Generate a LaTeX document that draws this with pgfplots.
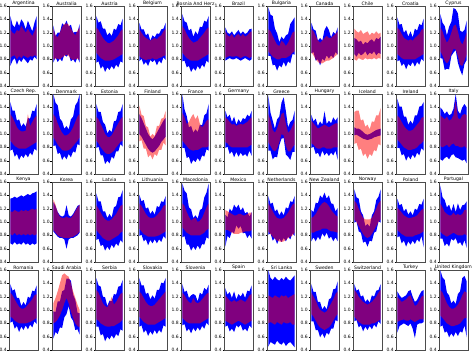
\documentclass[border=0pt]{standalone}
\usepackage{fontspec}
\setmainfont{DejaVu Sans}
\usepackage{pgfplots}
\usepackage{pgfplotstable}
\usepgfplotslibrary{groupplots,fillbetween}
\pgfplotsset{compat=1.18}
\pgfplotsset{every axis title/.style={at={(0.5,1)}, anchor=south, font=\fontsize{4.6}{5}\selectfont, inner sep=0.5pt}}
\newcommand\panel[2]{%
  \nextgroupplot[title={#1}]
  \pgfplotstableread[header=false,row sep=\\]{#2}\rawtbl
  \pgfplotstabletranspose[colnames from=0]\tbl{\rawtbl}
  \addplot[name path=bu,draw=none] table[x expr=\coordindex,y=bu]{\tbl};
  \addplot[name path=bl,draw=none] table[x expr=\coordindex,y=bl]{\tbl};
  \addplot[blue] fill between[of=bu and bl];
  \addplot[name path=ru,draw=none] table[x expr=\coordindex,y=ru]{\tbl};
  \addplot[name path=rl,draw=none] table[x expr=\coordindex,y=rl]{\tbl};
  \addplot[red, fill opacity=0.5] fill between[of=ru and rl];
}
\begin{document}
\begin{tikzpicture}
\begin{groupplot}[
  group style={group name=G, group size=11 by 4, horizontal sep=14pt, vertical sep=8pt},
  scale only axis, width=29pt, height=80pt,
  xmin=-0.6, xmax=12.6, ymin=0.4, ymax=1.6,
  xtick=\empty, ytick={0.4,0.6,0.8,1.0,1.2,1.4,1.6}, ytick pos=left,
  yticklabel={\pgfmathprintnumber[fixed,fixed zerofill,precision=1,assume math mode=true]{\tick}},
  yticklabel style={font=\fontsize{4.5}{5}\selectfont, inner sep=0.6pt},
  tick align=outside, major tick length=1.5pt,
  tick style={black, line width=0.3pt},
  axis line style={black!70, line width=0.4pt},
]
\panel{Argentina}{bu 1.45 1.32 1.28 1.38 1.30 1.40 1.35 1.25 1.38 1.30 1.22 1.35 1.45\\
bl 0.70 0.78 0.82 0.72 0.80 0.76 0.82 0.78 0.74 0.80 0.78 0.84 0.80\\
ru 1.25 1.20 1.18 1.24 1.22 1.30 1.25 1.20 1.26 1.20 1.15 1.22 1.30\\
rl 0.82 0.85 0.86 0.80 0.85 0.82 0.86 0.84 0.82 0.85 0.84 0.86 0.85\\}
\panel{Australia}{bu 1.31 1.15 1.20 1.20 1.34 1.31 1.38 1.29 1.32 1.20 1.21 1.21 1.33\\
bl 0.75 0.83 0.76 0.81 0.77 0.87 0.84 0.88 0.77 0.80 0.75 0.83 0.75\\
ru 1.26 1.16 1.13 1.20 1.28 1.33 1.34 1.32 1.26 1.20 1.16 1.23 1.28\\
rl 0.80 0.81 0.81 0.80 0.83 0.85 0.87 0.85 0.81 0.79 0.80 0.81 0.79\\}
\panel{Austria}{bu 1.45 1.35 1.37 1.26 1.26 1.16 1.20 1.15 1.26 1.24 1.33 1.31 1.41\\
bl 0.75 0.77 0.66 0.70 0.61 0.68 0.64 0.70 0.65 0.72 0.68 0.77 0.75\\
ru 1.28 1.24 1.18 1.12 1.08 1.05 1.04 1.06 1.08 1.12 1.16 1.22 1.25\\
rl 0.90 0.86 0.82 0.80 0.78 0.78 0.78 0.79 0.80 0.82 0.84 0.86 0.88\\}
\panel{Belgium}{bu 1.35 1.25 1.25 1.16 1.19 1.08 1.16 1.13 1.19 1.18 1.25 1.26 1.35\\
bl 0.77 0.81 0.72 0.76 0.70 0.79 0.76 0.79 0.71 0.78 0.74 0.83 0.79\\
ru 1.25 1.20 1.15 1.12 1.10 1.08 1.10 1.12 1.10 1.14 1.16 1.22 1.26\\
rl 0.85 0.82 0.80 0.79 0.80 0.80 0.82 0.80 0.80 0.82 0.83 0.85 0.86\\}
\panel{Bosnia And Herz}{bu 1.48 1.37 1.35 1.23 1.26 1.14 1.22 1.17 1.29 1.28 1.38 1.36 1.45\\
bl 0.77 0.78 0.68 0.70 0.61 0.67 0.63 0.70 0.65 0.72 0.68 0.78 0.75\\
ru 1.30 1.25 1.18 1.12 1.08 1.05 1.06 1.08 1.12 1.16 1.20 1.25 1.28\\
rl 0.90 0.86 0.82 0.80 0.78 0.78 0.78 0.78 0.80 0.82 0.84 0.86 0.88\\}
\panel{Brazil}{bu 1.28 1.20 1.18 1.22 1.16 1.20 1.24 1.18 1.22 1.18 1.20 1.25 1.26\\
bl 0.78 0.80 0.82 0.80 0.80 0.82 0.80 0.78 0.80 0.82 0.80 0.78 0.80\\
ru 1.22 1.16 1.14 1.18 1.12 1.16 1.18 1.14 1.18 1.14 1.16 1.20 1.22\\
rl 0.82 0.84 0.85 0.84 0.84 0.85 0.84 0.82 0.84 0.85 0.84 0.82 0.84\\}
\panel{Bulgaria}{bu 1.58 1.47 1.45 1.26 1.19 1.06 1.14 1.10 1.16 1.18 1.33 1.38 1.43\\
bl 0.85 0.85 0.71 0.72 0.63 0.71 0.68 0.76 0.69 0.77 0.74 0.88 0.87\\
ru 1.25 1.22 1.15 1.08 1.02 1.00 1.08 1.05 1.00 1.05 1.12 1.20 1.22\\
rl 0.92 0.88 0.84 0.82 0.80 0.80 0.82 0.82 0.82 0.84 0.86 0.90 0.92\\}
\panel{Canada}{bu 1.35 1.25 1.23 1.08 1.12 1.08 1.24 1.30 1.24 1.13 1.21 1.18 1.28\\
bl 0.89 0.91 0.78 0.80 0.71 0.81 0.78 0.86 0.81 0.86 0.82 0.91 0.87\\
ru 1.25 1.22 1.15 1.08 1.05 1.08 1.12 1.15 1.12 1.12 1.15 1.18 1.22\\
rl 0.90 0.86 0.80 0.76 0.74 0.74 0.76 0.78 0.78 0.80 0.82 0.85 0.88\\}
\panel{Chile}{bu 1.12 1.10 1.06 1.08 1.02 1.06 1.04 1.08 1.10 1.06 1.12 1.10 1.14\\
bl 0.88 0.84 0.90 0.86 0.88 0.92 0.86 0.90 0.88 0.92 0.86 0.90 0.88\\
ru 1.26 1.22 1.20 1.24 1.18 1.20 1.22 1.16 1.20 1.18 1.22 1.18 1.20\\
rl 0.80 0.78 0.82 0.80 0.79 0.82 0.80 0.81 0.80 0.82 0.80 0.82 0.81\\}
\panel{Croatia}{bu 1.43 1.32 1.33 1.20 1.24 1.14 1.22 1.13 1.26 1.23 1.33 1.31 1.41\\
bl 0.77 0.79 0.70 0.74 0.65 0.73 0.70 0.76 0.69 0.76 0.72 0.81 0.77\\
ru 1.28 1.24 1.18 1.12 1.10 1.08 1.10 1.08 1.12 1.15 1.18 1.24 1.26\\
rl 0.88 0.85 0.82 0.80 0.80 0.80 0.80 0.80 0.80 0.82 0.84 0.86 0.88\\}
\panel{Cyprus}{bu 1.48 1.35 1.30 1.16 1.29 1.36 1.57 1.55 1.49 1.23 1.21 1.24 1.38\\
bl 0.82 0.81 0.64 0.66 0.65 0.85 0.90 0.94 0.75 0.64 0.56 0.73 0.79\\
ru 1.28 1.22 1.12 1.05 1.10 1.20 1.30 1.32 1.22 1.08 1.02 1.10 1.20\\
rl 0.92 0.86 0.78 0.74 0.78 0.88 0.96 0.95 0.85 0.72 0.70 0.78 0.88\\}
\panel{Czech Rep.}{bu 1.48 1.35 1.35 1.20 1.22 1.11 1.16 1.11 1.24 1.23 1.35 1.34 1.45\\
bl 0.75 0.77 0.66 0.70 0.61 0.68 0.64 0.70 0.65 0.72 0.68 0.78 0.75\\
ru 1.30 1.25 1.18 1.10 1.06 1.04 1.04 1.05 1.30 1.12 1.18 1.24 1.28\\
rl 0.90 0.86 0.82 0.80 0.78 0.78 0.78 0.78 0.80 0.82 0.84 0.86 0.88\\}
\panel{Denmark}{bu 1.60 1.47 1.43 1.23 1.19 1.08 1.12 1.07 1.22 1.26 1.43 1.48 1.60\\
bl 0.82 0.83 0.70 0.72 0.61 0.67 0.62 0.70 0.65 0.74 0.72 0.85 0.83\\
ru 1.30 1.25 1.16 1.08 1.02 0.98 0.98 1.00 1.04 1.10 1.18 1.26 1.30\\
rl 0.95 0.90 0.84 0.80 0.76 0.75 0.75 0.76 0.78 0.82 0.86 0.90 0.95\\}
\panel{Estonia}{bu 1.45 1.33 1.33 1.18 1.14 1.01 1.06 1.03 1.19 1.20 1.33 1.34 1.45\\
bl 0.79 0.81 0.68 0.68 0.55 0.60 0.56 0.66 0.63 0.74 0.74 0.85 0.81\\
ru 1.26 1.22 1.15 1.08 1.00 0.96 0.95 0.98 1.04 1.10 1.16 1.22 1.26\\
rl 0.90 0.86 0.80 0.76 0.72 0.70 0.70 0.72 0.75 0.80 0.84 0.88 0.90\\}
\panel{Finland}{bu 1.30 1.24 1.16 1.08 1.00 0.95 0.92 0.96 1.02 1.08 1.14 1.20 1.24\\
bl 1.00 0.96 0.90 0.84 0.78 0.74 0.72 0.74 0.78 0.82 0.88 0.92 0.96\\
ru 1.43 1.29 1.27 1.12 1.10 0.96 1.00 0.97 1.12 1.12 1.23 1.24 1.35\\
rl 0.89 0.91 0.78 0.78 0.65 0.69 0.62 0.70 0.67 0.76 0.76 0.87 0.83\\}
\panel{France}{bu 1.60 1.37 1.27 1.10 1.12 1.02 1.07 1.03 1.14 1.13 1.28 1.31 1.45\\
bl 0.79 0.79 0.64 0.66 0.55 0.61 0.58 0.64 0.59 0.68 0.66 0.77 0.75\\
ru 1.32 1.25 1.15 1.18 1.25 1.30 1.22 1.28 1.15 1.10 1.14 1.20 1.22\\
rl 0.90 0.86 0.82 0.78 0.76 0.75 0.76 0.76 0.78 0.80 0.80 0.80 0.82\\}
\panel{Germany}{bu 1.35 1.25 1.29 1.18 1.26 1.14 1.22 1.17 1.24 1.22 1.29 1.26 1.35\\
bl 0.79 0.81 0.70 0.74 0.65 0.73 0.66 0.72 0.67 0.70 0.66 0.75 0.67\\
ru 1.25 1.22 1.18 1.14 1.15 1.12 1.14 1.15 1.14 1.16 1.18 1.22 1.25\\
rl 0.88 0.86 0.82 0.80 0.80 0.80 0.80 0.80 0.80 0.80 0.80 0.82 0.84\\}
\panel{Greece}{bu 1.58 1.32 1.20 1.08 1.22 1.26 1.47 1.55 1.34 1.10 1.18 1.21 1.35\\
bl 0.75 0.75 0.62 0.66 0.65 0.83 0.93 0.94 0.69 0.66 0.61 0.73 0.73\\
ru 1.30 1.20 1.06 1.02 1.08 1.18 1.30 1.32 1.15 1.02 1.05 1.12 1.20\\
rl 0.88 0.82 0.76 0.74 0.78 0.88 1.00 0.98 0.82 0.74 0.74 0.80 0.84\\}
\panel{Hungary}{bu 1.29 1.19 1.23 1.12 1.19 1.14 1.34 1.15 1.20 1.16 1.25 1.20 1.25\\
bl 0.79 0.81 0.70 0.72 0.65 0.75 0.68 0.72 0.67 0.72 0.68 0.75 0.61\\
ru 1.20 1.16 1.12 1.08 1.10 1.12 1.14 1.12 1.10 1.12 1.14 1.16 1.16\\
rl 0.86 0.84 0.80 0.78 0.78 0.80 0.80 0.78 0.78 0.78 0.80 0.80 0.80\\}
\panel{Iceland}{bu 1.10 1.08 1.08 1.06 1.03 1.00 0.99 1.00 1.02 1.04 1.06 1.07 1.08\\
bl 0.98 0.99 0.97 0.95 0.93 0.92 0.91 0.92 0.93 0.95 0.96 0.97 0.98\\
ru 1.33 1.35 1.35 1.20 1.22 1.11 1.14 1.07 1.19 1.18 1.28 1.28 1.39\\
rl 0.85 0.87 0.76 0.78 0.67 0.71 0.63 0.70 0.67 0.76 0.74 0.85 0.83\\}
\panel{Ireland}{bu 1.53 1.41 1.41 1.26 1.26 1.14 1.20 1.15 1.28 1.28 1.41 1.42 1.48\\
bl 0.79 0.79 0.68 0.70 0.60 0.67 0.62 0.69 0.64 0.72 0.68 0.79 0.75\\
ru 1.28 1.24 1.18 1.12 1.08 1.05 1.05 1.06 1.10 1.14 1.18 1.24 1.26\\
rl 0.92 0.88 0.84 0.80 0.78 0.76 0.76 0.77 0.78 0.80 0.84 0.86 0.90\\}
\panel{Italy}{bu 1.40 1.36 1.30 1.34 1.28 1.30 1.38 1.60 1.35 1.30 1.40 1.45 1.40\\
bl 0.62 0.60 0.64 0.66 0.62 0.68 0.70 0.65 0.64 0.62 0.60 0.62 0.56\\
ru 1.28 1.25 1.22 1.26 1.20 1.22 1.28 1.50 1.24 1.22 1.28 1.30 1.28\\
rl 0.82 0.80 0.82 0.84 0.80 0.84 0.86 0.82 0.82 0.80 0.80 0.82 0.78\\}
\panel{Kenya}{bu 1.35 1.36 1.38 1.36 1.38 1.40 1.38 1.40 1.42 1.40 1.43 1.44 1.46\\
bl 0.68 0.66 0.70 0.66 0.68 0.66 0.70 0.66 0.68 0.65 0.68 0.66 0.68\\
ru 1.16 1.15 1.18 1.16 1.15 1.18 1.16 1.18 1.16 1.18 1.20 1.18 1.20\\
rl 0.82 0.80 0.84 0.80 0.82 0.80 0.82 0.80 0.82 0.80 0.82 0.80 0.82\\}
\panel{Korea}{bu 1.30 1.24 1.15 1.10 1.08 1.10 1.25 1.10 1.08 1.12 1.18 1.24 1.26\\
bl 0.86 0.82 0.78 0.76 0.76 0.74 0.60 0.74 0.76 0.76 0.78 0.80 0.84\\
ru 1.34 1.26 1.14 1.08 1.06 1.06 1.08 1.06 1.06 1.10 1.16 1.22 1.26\\
rl 0.88 0.84 0.80 0.78 0.77 0.76 0.76 0.76 0.77 0.78 0.80 0.82 0.86\\}
\panel{Latvia}{bu 1.43 1.31 1.31 1.16 1.16 1.06 1.12 1.07 1.22 1.24 1.37 1.38 1.48\\
bl 0.73 0.75 0.64 0.66 0.57 0.63 0.58 0.66 0.61 0.68 0.64 0.73 0.69\\
ru 1.25 1.20 1.14 1.08 1.04 1.02 1.02 1.04 1.08 1.12 1.18 1.24 1.26\\
rl 0.88 0.84 0.80 0.76 0.74 0.72 0.72 0.74 0.76 0.78 0.80 0.84 0.86\\}
\panel{Lithuania}{bu 1.41 1.31 1.33 1.20 1.22 1.12 1.17 1.11 1.24 1.22 1.31 1.30 1.39\\
bl 0.79 0.81 0.71 0.74 0.65 0.73 0.68 0.74 0.68 0.74 0.70 0.79 0.75\\
ru 1.28 1.24 1.18 1.12 1.08 1.06 1.06 1.07 1.10 1.14 1.18 1.24 1.26\\
rl 0.90 0.86 0.82 0.80 0.78 0.78 0.78 0.78 0.79 0.80 0.82 0.84 0.86\\}
\panel{Macedonia}{bu 1.58 1.47 1.43 1.22 1.19 1.06 1.10 1.05 1.18 1.20 1.37 1.44 1.58\\
bl 0.77 0.79 0.66 0.66 0.57 0.63 0.58 0.65 0.59 0.67 0.66 0.77 0.75\\
ru 1.28 1.24 1.15 1.08 1.02 1.05 1.06 1.00 1.02 1.06 1.14 1.22 1.28\\
rl 0.92 0.88 0.84 0.82 0.80 0.80 0.80 0.80 0.80 0.82 0.84 0.88 0.90\\}
\panel{Mexico}{bu 1.11 1.07 1.20 1.16 1.26 1.21 1.26 1.17 1.22 1.13 1.15 1.08 1.15\\
bl 0.63 0.79 0.76 0.86 0.83 0.95 0.90 0.94 0.83 0.84 0.76 0.81 0.75\\
ru 1.18 1.16 1.14 1.12 1.10 1.10 1.12 1.12 1.10 1.10 1.12 1.14 1.14\\
rl 0.88 0.88 0.86 0.84 0.82 0.82 0.82 0.84 0.84 0.86 0.86 0.86 0.88\\}
\panel{Netherlands}{bu 1.39 1.27 1.29 1.16 1.19 1.10 1.16 1.10 1.22 1.20 1.31 1.30 1.39\\
bl 0.81 0.83 0.72 0.76 0.67 0.75 0.70 0.76 0.71 0.78 0.74 0.83 0.79\\
ru 1.28 1.22 1.16 1.10 1.06 1.05 1.05 1.06 1.10 1.14 1.20 1.26 1.28\\
rl 0.86 0.82 0.78 0.75 0.72 0.71 0.70 0.71 0.73 0.76 0.78 0.80 0.84\\}
\panel{New Zealand}{bu 1.18 1.15 1.29 1.28 1.40 1.36 1.44 1.35 1.40 1.28 1.27 1.16 1.21\\
bl 0.71 0.77 0.71 0.78 0.73 0.83 0.78 0.84 0.75 0.78 0.71 0.77 0.71\\
ru 1.06 1.08 1.12 1.18 1.24 1.28 1.30 1.28 1.24 1.18 1.14 1.10 1.08\\
rl 0.84 0.84 0.86 0.87 0.88 0.90 0.90 0.90 0.88 0.86 0.86 0.85 0.84\\}
\panel{Norway}{bu 1.49 1.37 1.35 1.16 1.10 0.94 0.97 0.93 1.10 1.16 1.33 1.38 1.49\\
bl 0.99 1.01 0.86 0.84 0.69 0.71 0.63 0.72 0.71 0.84 0.86 1.01 0.99\\
ru 1.32 1.28 1.20 1.12 1.06 1.04 1.04 1.04 1.06 1.12 1.20 1.28 1.32\\
rl 1.04 1.00 0.94 0.88 0.82 0.78 0.76 0.78 0.82 0.88 0.94 1.00 1.04\\}
\panel{Poland}{bu 1.35 1.25 1.27 1.16 1.20 1.11 1.16 1.10 1.20 1.18 1.27 1.26 1.35\\
bl 0.77 0.79 0.68 0.72 0.63 0.71 0.66 0.72 0.67 0.74 0.70 0.79 0.62\\
ru 1.22 1.18 1.14 1.10 1.08 1.06 1.06 1.07 1.08 1.10 1.14 1.18 1.20\\
rl 0.88 0.85 0.82 0.80 0.78 0.78 0.78 0.78 0.80 0.81 0.82 0.84 0.86\\}
\panel{Portugal}{bu 1.55 1.37 1.33 1.22 1.26 1.16 1.27 1.15 1.28 1.18 1.25 1.26 1.31\\
bl 0.75 0.75 0.64 0.68 0.63 0.75 0.72 0.76 0.67 0.70 0.64 0.73 0.61\\
ru 1.28 1.22 1.15 1.12 1.10 1.10 1.14 1.10 1.12 1.10 1.12 1.18 1.18\\
rl 0.86 0.82 0.80 0.78 0.80 0.82 0.84 0.82 0.80 0.80 0.80 0.82 0.80\\}
\panel{Romania}{bu 1.39 1.29 1.31 1.18 1.18 1.06 1.12 1.07 1.20 1.18 1.29 1.28 1.37\\
bl 0.81 0.83 0.72 0.76 0.67 0.75 0.70 0.77 0.71 0.78 0.74 0.83 0.79\\
ru 1.26 1.22 1.16 1.10 1.05 1.02 1.02 1.04 1.08 1.12 1.16 1.22 1.24\\
rl 0.90 0.88 0.84 0.82 0.80 0.80 0.80 0.80 0.81 0.82 0.84 0.86 0.88\\}
\panel{Saudi Arabia}{bu 0.98 0.97 1.13 1.13 1.28 1.30 1.47 1.47 1.44 1.23 1.15 0.96 0.95\\
bl 0.57 0.67 0.64 0.74 0.73 0.89 0.94 1.06 0.89 0.84 0.70 0.71 0.63\\
ru 1.10 1.18 1.28 1.40 1.52 1.55 1.52 1.50 1.40 1.28 1.18 1.08 1.00\\
rl 0.80 0.82 0.86 0.92 1.00 1.10 1.18 1.10 0.98 0.88 0.80 0.76 0.74\\}
\panel{Serbia}{bu 1.48 1.37 1.35 1.20 1.19 1.06 1.14 1.13 1.24 1.23 1.35 1.36 1.45\\
bl 0.75 0.75 0.62 0.64 0.53 0.60 0.56 0.62 0.57 0.64 0.61 0.71 0.69\\
ru 1.30 1.26 1.18 1.10 1.06 1.04 1.10 1.20 1.08 1.12 1.18 1.24 1.26\\
rl 0.86 0.84 0.80 0.78 0.76 0.75 0.75 0.76 0.76 0.78 0.80 0.82 0.86\\}
\panel{Slovakia}{bu 1.48 1.37 1.37 1.24 1.26 1.16 1.22 1.17 1.30 1.30 1.41 1.40 1.48\\
bl 0.75 0.77 0.66 0.70 0.61 0.68 0.63 0.70 0.64 0.70 0.66 0.77 0.75\\
ru 1.28 1.24 1.18 1.12 1.08 1.06 1.06 1.08 1.12 1.16 1.20 1.24 1.28\\
rl 0.90 0.86 0.82 0.80 0.78 0.78 0.78 0.78 0.80 0.82 0.84 0.86 0.88\\}
\panel{Slovenia}{bu 1.39 1.27 1.29 1.18 1.22 1.24 1.22 1.13 1.26 1.23 1.33 1.30 1.38\\
bl 0.77 0.79 0.68 0.72 0.65 0.73 0.68 0.74 0.69 0.76 0.72 0.81 0.77\\
ru 1.26 1.22 1.16 1.12 1.10 1.18 1.12 1.10 1.12 1.16 1.20 1.24 1.26\\
rl 0.88 0.85 0.82 0.80 0.80 0.80 0.80 0.80 0.80 0.82 0.84 0.86 0.88\\}
\panel{Spain}{bu 1.33 1.23 1.27 1.18 1.28 1.16 1.24 1.20 1.26 1.18 1.29 1.28 1.37\\
bl 0.75 0.77 0.68 0.72 0.67 0.77 0.74 0.78 0.69 0.72 0.68 0.77 0.73\\
ru 1.22 1.18 1.14 1.12 1.15 1.12 1.14 1.16 1.14 1.12 1.16 1.22 1.24\\
rl 0.84 0.82 0.80 0.78 0.80 0.82 0.84 0.82 0.80 0.78 0.80 0.82 0.84\\}
\panel{Sri Lanka}{bu 1.60 1.48 1.45 1.50 1.46 1.44 1.48 1.45 1.50 1.46 1.44 1.48 1.52\\
bl 0.45 0.52 0.50 0.48 0.54 0.50 0.48 0.52 0.46 0.50 0.52 0.48 0.44\\
ru 1.22 1.20 1.18 1.22 1.20 1.18 1.22 1.20 1.22 1.18 1.20 1.22 1.24\\
rl 0.80 0.82 0.80 0.78 0.82 0.80 0.78 0.82 0.80 0.80 0.82 0.78 0.78\\}
\panel{Sweden}{bu 1.39 1.27 1.27 1.12 1.12 1.01 1.06 1.01 1.16 1.18 1.31 1.32 1.43\\
bl 0.83 0.83 0.70 0.70 0.59 0.65 0.58 0.66 0.63 0.72 0.72 0.85 0.83\\
ru 1.26 1.20 1.14 1.06 1.00 0.98 0.96 0.98 1.04 1.10 1.16 1.24 1.28\\
rl 0.94 0.90 0.84 0.78 0.74 0.72 0.70 0.72 0.74 0.78 0.84 0.90 0.94\\}
\panel{Switzerland}{bu 1.39 1.29 1.31 1.20 1.22 1.12 1.16 1.11 1.22 1.20 1.29 1.30 1.39\\
bl 0.83 0.85 0.74 0.77 0.68 0.75 0.70 0.76 0.71 0.78 0.74 0.83 0.79\\
ru 1.30 1.26 1.20 1.16 1.12 1.10 1.08 1.10 1.12 1.16 1.20 1.26 1.30\\
rl 0.90 0.86 0.82 0.80 0.78 0.78 0.78 0.78 0.80 0.80 0.82 0.84 0.86\\}
\panel{Turkey}{bu 1.28 1.22 1.18 1.20 1.22 1.28 1.30 1.20 1.12 1.15 1.22 1.28 1.30\\
bl 0.66 0.76 0.78 0.80 0.78 0.76 0.80 0.72 0.58 0.78 0.80 0.80 0.82\\
ru 1.20 1.16 1.12 1.14 1.16 1.20 1.22 1.14 1.06 1.08 1.14 1.20 1.22\\
rl 0.82 0.84 0.85 0.86 0.84 0.84 0.86 0.84 0.82 0.84 0.86 0.86 0.86\\}
\panel{United Kingdom}{bu 1.60 1.49 1.45 1.26 1.22 1.10 1.14 1.09 1.24 1.28 1.48 1.51 1.43\\
bl 0.75 0.77 0.66 0.68 0.59 0.65 0.60 0.67 0.61 0.68 0.66 0.77 0.59\\
ru 1.30 1.26 1.18 1.10 1.05 1.02 1.02 1.04 1.08 1.14 1.22 1.28 1.26\\
rl 0.92 0.88 0.84 0.80 0.78 0.76 0.76 0.77 0.78 0.80 0.84 0.88 0.88\\}
\end{groupplot}
\pgfresetboundingbox
\path ([shift={(-9pt,6pt)}]G c1r1.north west) rectangle ([shift={(465pt,-349pt)}]G c1r1.north west);
\end{tikzpicture}
\end{document}
